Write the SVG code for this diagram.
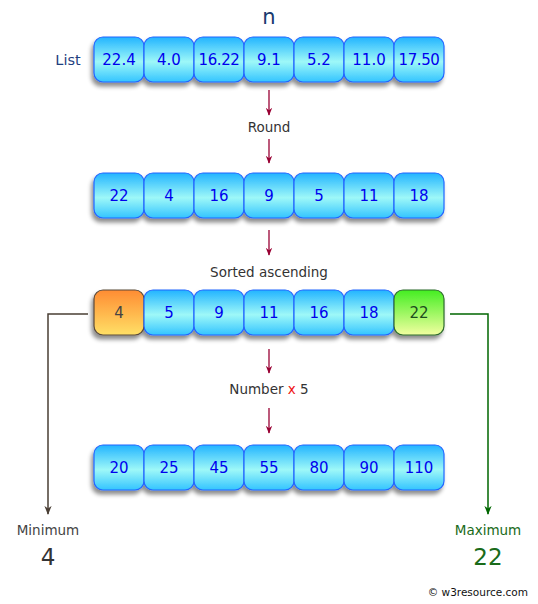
<svg xmlns="http://www.w3.org/2000/svg" width="538" height="604" viewBox="0 0 538 604">
<style>
.bx{fill:url(#gBlue);stroke:#2266ff;stroke-width:1.2}
.bo{fill:url(#gOrange);stroke:#5a4a3a;stroke-width:1.2}
.bg{fill:url(#gGreen);stroke:#2d6a2d;stroke-width:1.2}
.v{font-family:"DejaVu Sans",Verdana,sans-serif;font-size:15px;fill:#0000ee;text-anchor:middle}
.lbl{font-family:"DejaVu Sans",Verdana,sans-serif;font-size:13.5px;fill:#333;text-anchor:middle}
.ar{stroke:#990033;stroke-width:1.3;fill:none;marker-end:url(#mRed)}
</style>
<defs>
<linearGradient id="gBlue" x1="0" y1="0" x2="0" y2="1">
<stop offset="0" stop-color="#22b4ff"/><stop offset="0.55" stop-color="#9ef8f8"/><stop offset="1" stop-color="#33c4ff"/>
</linearGradient>
<linearGradient id="gOrange" x1="0" y1="0" x2="0" y2="1">
<stop offset="0" stop-color="#ff8c33"/><stop offset="1" stop-color="#ffe066"/>
</linearGradient>
<linearGradient id="gGreen" x1="0" y1="0" x2="0" y2="1">
<stop offset="0" stop-color="#44ee22"/><stop offset="1" stop-color="#f2ffa0"/>
</linearGradient>
<filter id="sh" x="-20%" y="-20%" width="140%" height="160%">
<feDropShadow dx="-2" dy="4" stdDeviation="2" flood-color="#000" flood-opacity="0.45"/>
</filter>
<marker id="mRed" viewBox="0 0 10 10" refX="9" refY="5" markerWidth="8" markerHeight="8" orient="auto" markerUnits="userSpaceOnUse">
<path d="M0,1 L10,5 L0,9 L3,5 Z" fill="#990033"/>
</marker>
<marker id="mBrown" viewBox="0 0 10 10" refX="9" refY="5" markerWidth="9" markerHeight="9" orient="auto" markerUnits="userSpaceOnUse">
<path d="M0,1 L10,5 L0,9 L3,5 Z" fill="#4a3f35"/>
</marker>
<marker id="mGreen" viewBox="0 0 10 10" refX="9" refY="5" markerWidth="9" markerHeight="9" orient="auto" markerUnits="userSpaceOnUse">
<path d="M0,1 L10,5 L0,9 L3,5 Z" fill="#006600"/>
</marker>
</defs>
<rect width="538" height="604" fill="#fff"/>

<text x="269" y="24" font-family="DejaVu Sans,Verdana,sans-serif" font-size="21" fill="#1a3a6e" text-anchor="middle">n</text>
<text x="68" y="65" font-family="DejaVu Sans,Verdana,sans-serif" font-size="14.5" fill="#1f3f7f" text-anchor="middle">List</text>

<g id="row1" filter="url(#sh)">
<rect class="bx" x="94" y="37" width="50" height="45" rx="9"/>
<rect class="bx" x="144" y="37" width="50" height="45" rx="9"/>
<rect class="bx" x="194" y="37" width="50" height="45" rx="9"/>
<rect class="bx" x="244" y="37" width="50" height="45" rx="9"/>
<rect class="bx" x="294" y="37" width="50" height="45" rx="9"/>
<rect class="bx" x="344" y="37" width="50" height="45" rx="9"/>
<rect class="bx" x="394" y="37" width="50" height="45" rx="9"/>
</g>
<g id="row1text">
<text class="v" x="119" y="65">22.4</text>
<text class="v" x="169" y="65">4.0</text>
<text class="v" x="219" y="65" style="letter-spacing:-0.4px">16.22</text>
<text class="v" x="269" y="65">9.1</text>
<text class="v" x="319" y="65">5.2</text>
<text class="v" x="369" y="65">11.0</text>
<text class="v" x="419" y="65" style="letter-spacing:-0.4px">17.50</text>
</g>

<g id="row2" filter="url(#sh)">
<rect class="bx" x="94" y="173" width="50" height="45" rx="9"/>
<rect class="bx" x="144" y="173" width="50" height="45" rx="9"/>
<rect class="bx" x="194" y="173" width="50" height="45" rx="9"/>
<rect class="bx" x="244" y="173" width="50" height="45" rx="9"/>
<rect class="bx" x="294" y="173" width="50" height="45" rx="9"/>
<rect class="bx" x="344" y="173" width="50" height="45" rx="9"/>
<rect class="bx" x="394" y="173" width="50" height="45" rx="9"/>
</g>
<g id="row2text">
<text class="v" x="119" y="201">22</text>
<text class="v" x="169" y="201">4</text>
<text class="v" x="219" y="201">16</text>
<text class="v" x="269" y="201">9</text>
<text class="v" x="319" y="201">5</text>
<text class="v" x="369" y="201">11</text>
<text class="v" x="419" y="201">18</text>
</g>

<g id="row3" filter="url(#sh)">
<rect class="bo" x="94" y="290" width="50" height="45" rx="9"/>
<rect class="bx" x="144" y="290" width="50" height="45" rx="9"/>
<rect class="bx" x="194" y="290" width="50" height="45" rx="9"/>
<rect class="bx" x="244" y="290" width="50" height="45" rx="9"/>
<rect class="bx" x="294" y="290" width="50" height="45" rx="9"/>
<rect class="bx" x="344" y="290" width="50" height="45" rx="9"/>
<rect class="bg" x="394" y="290" width="50" height="45" rx="9"/>
</g>
<g id="row3text">
<text class="v" x="119" y="318" style="fill:#444">4</text>
<text class="v" x="169" y="318">5</text>
<text class="v" x="219" y="318">9</text>
<text class="v" x="269" y="318">11</text>
<text class="v" x="319" y="318">16</text>
<text class="v" x="369" y="318">18</text>
<text class="v" x="419" y="318" style="fill:#1d4d1d">22</text>
</g>

<g id="row4" filter="url(#sh)">
<rect class="bx" x="94" y="445" width="50" height="45" rx="9"/>
<rect class="bx" x="144" y="445" width="50" height="45" rx="9"/>
<rect class="bx" x="194" y="445" width="50" height="45" rx="9"/>
<rect class="bx" x="244" y="445" width="50" height="45" rx="9"/>
<rect class="bx" x="294" y="445" width="50" height="45" rx="9"/>
<rect class="bx" x="344" y="445" width="50" height="45" rx="9"/>
<rect class="bx" x="394" y="445" width="50" height="45" rx="9"/>
</g>
<g id="row4text">
<text class="v" x="119" y="473">20</text>
<text class="v" x="169" y="473">25</text>
<text class="v" x="219" y="473">45</text>
<text class="v" x="269" y="473">55</text>
<text class="v" x="319" y="473">80</text>
<text class="v" x="369" y="473">90</text>
<text class="v" x="419" y="473">110</text>
</g>

<g id="connectors">
<line class="ar" x1="269" y1="90" x2="269" y2="115"/>
<line class="ar" x1="269" y1="139" x2="269" y2="163"/>
<line class="ar" x1="269" y1="230" x2="269" y2="255"/>
<line class="ar" x1="269" y1="349" x2="269" y2="373"/>
<line class="ar" x1="269" y1="408" x2="269" y2="433"/>
<polyline points="88,314 48,314 48,514" fill="none" stroke="#4a3f35" stroke-width="1.5" marker-end="url(#mBrown)"/>
<polyline points="450,314 488,314 488,514" fill="none" stroke="#006600" stroke-width="1.5" marker-end="url(#mGreen)"/>
</g>

<g id="labels">
<text class="lbl" x="269" y="132">Round</text>
<text class="lbl" x="269" y="277">Sorted ascending</text>
<text class="lbl" x="269" y="394">Number <tspan fill="#ee1111">x</tspan> 5</text>
<text class="lbl" x="48" y="535" style="fill:#444">Minimum</text>
<text x="48" y="565" font-family="DejaVu Sans,Verdana,sans-serif" font-size="23" fill="#333" text-anchor="middle">4</text>
<text class="lbl" x="488" y="535" style="fill:#1a6b1a">Maximum</text>
<text x="488" y="565" font-family="DejaVu Sans,Verdana,sans-serif" font-size="23" fill="#1a6b1a" text-anchor="middle">22</text>
<text x="528" y="596" font-family="DejaVu Sans,Verdana,sans-serif" font-size="10.5" fill="#111" text-anchor="end">© w3resource.com</text>
</g>
</svg>
